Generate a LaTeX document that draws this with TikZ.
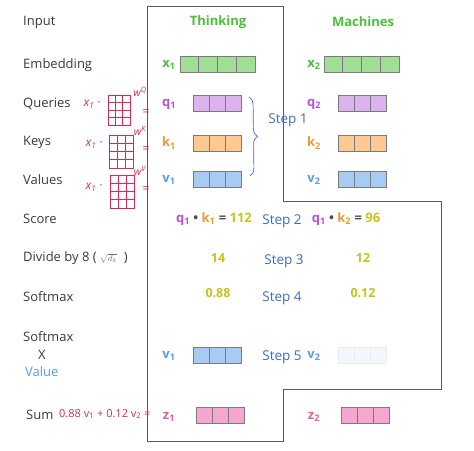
\documentclass[tikz,border=0pt]{standalone}
\usepackage{fontspec}
\setmainfont{Open Sans}
\usetikzlibrary{decorations.pathreplacing}

\definecolor{lblgray}{HTML}{3A3A3A}
\definecolor{thinkgreen}{HTML}{4DBE3A}
\definecolor{xfill}{HTML}{A3DE98}
\definecolor{qfill}{HTML}{DDB3EE}
\definecolor{qcol}{HTML}{B84FD6}
\definecolor{kfill}{HTML}{FFC98F}
\definecolor{kcol}{HTML}{EE9A33}
\definecolor{vfill}{HTML}{A6CCF3}
\definecolor{vcol}{HTML}{5C9CDB}
\definecolor{zfill}{HTML}{F7A6D0}
\definecolor{zcol}{HTML}{E0609A}
\definecolor{numcol}{HTML}{C5C41A}
\definecolor{stepcol}{HTML}{3C6DC0}
\definecolor{inkred}{HTML}{D62B55}
\definecolor{cellline}{HTML}{7A7A7A}

\begin{document}
\begin{tikzpicture}[
        x=1pt, y=-1pt,
        rowlabel/.style={anchor=west, text=lblgray, font=\fontsize{13}{15}\selectfont, inner sep=0pt},
        word/.style={font=\fontsize{13}{15}\selectfont\bfseries, text=thinkgreen},
        veclabel/.style={font=\fontsize{13}{15}\selectfont\bfseries, inner sep=0pt},
        cellbox/.style={draw=cellline, line width=0.7pt, minimum width=16pt, minimum height=16pt, inner sep=0pt},
        steplabel/.style={font=\fontsize{13.5}{16}\selectfont, text=stepcol, inner sep=0pt},
        number/.style={font=\fontsize{12.5}{15}\selectfont\bfseries, text=numcol, inner sep=0pt},
        ink/.style={text=inkred, font=\fontsize{12}{14}\selectfont, inner sep=0pt},
        inkline/.style={draw=inkred, line width=0.8pt}
    ]
    \useasboundingbox (0,0) rectangle (474,450);

    % Umriss
    \draw[draw=black!65, line width=0.8pt]
        (147,6) -- (283,6) -- (283,201) -- (441,201) -- (441,389)
        -- (283,389) -- (283,441) -- (147,441) -- cycle;

    % Zeilen
    \node[rowlabel] (rInput) at (23,22)  {Input};
    \node[rowlabel] (rEmb)   at (23,65)  {Embedding};
    \node[rowlabel] (rQue)   at (23,104) {Queries};
    \node[rowlabel] (rKey)   at (23,142) {Keys};
    \node[rowlabel] (rVal)   at (23,180) {Values};
    \node[rowlabel] (rScore) at (23,219) {Score};
    \node[rowlabel] (rDiv)   at (23,258) {Divide by 8 ( \textcolor{black!55}{$\scriptstyle\sqrt{d_k}$} \ )};
    \node[rowlabel] (rSoft)  at (23,297) {Softmax};
    \node[rowlabel] (rSoft2) at (23,337) {Softmax};
    \node[rowlabel] (rX)     at (38,355) {X};
    \node[rowlabel, text=vcol] (rValue) at (25,372) {Value};
    \node[rowlabel] (rSum)   at (26,415) {Sum};

    % Woerter
    \node[word] (think) at (218,22) {Thinking};
    \node[word] (mach)  at (363,22) {Machines};

    % Vektoren
    \node[veclabel, text=thinkgreen] (x1) at (169,65) {x\textsubscript{1}};
    \node[veclabel, text=thinkgreen] (x2) at (314,65) {x\textsubscript{2}};
    \foreach \i in {0,...,3} {
        \node[cellbox, fill=xfill, minimum width=18.75pt] (x1-\i) at (189.4+\i*18.75,64) {};
        \node[cellbox, fill=xfill, minimum width=18.75pt] (x2-\i) at (333.4+\i*18.75,64) {};
    }

    \node[veclabel, text=qcol] (q1) at (169,104) {q\textsubscript{1}};
    \node[veclabel, text=qcol] (q2) at (314,104) {q\textsubscript{2}};
    \node[veclabel, text=kcol] (k1) at (169,143) {k\textsubscript{1}};
    \node[veclabel, text=kcol] (k2) at (314,143) {k\textsubscript{2}};
    \node[veclabel, text=vcol] (v1) at (169,180) {v\textsubscript{1}};
    \node[veclabel, text=vcol] (v2) at (314,180) {v\textsubscript{2}};
    \foreach \i in {0,1,2} {
        \node[cellbox, fill=qfill] (q1-\i) at (201+\i*16,103.5) {};
        \node[cellbox, fill=qfill] (q2-\i) at (346+\i*16,103.5) {};
        \node[cellbox, fill=kfill] (k1-\i) at (201+\i*16,143) {};
        \node[cellbox, fill=kfill] (k2-\i) at (346+\i*16,143) {};
        \node[cellbox, fill=vfill] (v1-\i) at (201+\i*16,179) {};
        \node[cellbox, fill=vfill] (v2-\i) at (346+\i*16,179) {};
    }

    % Schritt 1
    \coordinate (brTop) at (249,97);
    \coordinate (brBot) at (250,176);
    \draw[draw=stepcol, line width=0.7pt, decorate, decoration={brace, amplitude=8pt}] (brTop) -- (brBot);
    \node[steplabel] (step1) at (288,120) {Step 1};

    % Schritt 2
    \node[font=\fontsize{13}{15}\selectfont\bfseries, inner sep=0pt] (score1) at (214,219)
        {\textcolor{qcol}{q\textsubscript{1}} \textcolor{black!70}{•} \textcolor{kcol}{k\textsubscript{1}} \textcolor{black!70}{=} \textcolor{numcol}{112}};
    \node[steplabel] (step2) at (282,221) {Step 2};
    \node[font=\fontsize{13}{15}\selectfont\bfseries, inner sep=0pt] (score2) at (346,219)
        {\textcolor{qcol}{q\textsubscript{1}} \textcolor{black!70}{•} \textcolor{kcol}{k\textsubscript{2}} \textcolor{black!70}{=} \textcolor{numcol}{96}};

    % Schritt 3 und 4
    \node[number] (div1) at (218,258) {14};
    \node[steplabel] (step3) at (284,261) {Step 3};
    \node[number] (div2) at (363,258) {12};
    \node[number] (soft1) at (218,293) {0.88};
    \node[steplabel] (step4) at (282,298) {Step 4};
    \node[number] (soft2) at (363,293) {0.12};

    % Schritt 5
    \node[veclabel, text=vcol] (v1b) at (169,356) {v\textsubscript{1}};
    \node[veclabel, text=vcol] (v2b) at (314,356) {v\textsubscript{2}};
    \foreach \i in {0,1,2} {
        \node[cellbox, fill=vfill] (v1b-\i) at (201+\i*16,355) {};
        \node[cellbox, fill=vfill!15, draw=black!8] (v2b-\i) at (346+\i*16,355) {};
    }
    \node[steplabel] (step5) at (282,357) {Step 5};

    % Summe
    \node[veclabel, text=zcol] (z1) at (169,417) {z\textsubscript{1}};
    \node[veclabel, text=zcol] (z2) at (314,417) {z\textsubscript{2}};
    \foreach \i in {0,1,2} {
        \node[cellbox, fill=zfill] (z1-\i) at (204+\i*16,415) {};
        \node[cellbox, fill=zfill] (z2-\i) at (349+\i*16,415) {};
    }

    % Handschrift
    \node[ink] (xq) at (92,104) {\itshape x\textsubscript{1} ·};
    \node[ink] (xk) at (94,144) {\itshape x\textsubscript{1} ·};
    \node[ink] (xv) at (94,187) {\itshape x\textsubscript{1} ·};
    \draw[inkline] (108,95) rectangle (130,125);
    \foreach \c in {1,2} \draw[inkline] (108+\c*22/3,95) -- (108+\c*22/3,125);
    \foreach \r in {1,2,3} \draw[inkline] (108,95+\r*7.5) -- (130,95+\r*7.5);
    \draw[inkline] (109,135) rectangle (133,168);
    \foreach \c in {1,2} \draw[inkline] (109+\c*8,135) -- (109+\c*8,168);
    \foreach \r in {1,2,3} \draw[inkline] (109,135+\r*8.25) -- (133,135+\r*8.25);
    \draw[inkline] (110,175) rectangle (134,208);
    \foreach \c in {1,2} \draw[inkline] (110+\c*8,175) -- (110+\c*8,208);
    \foreach \r in {1,2,3} \draw[inkline] (110,175+\r*8.25) -- (134,175+\r*8.25);
    \node[ink, font=\fontsize{10.5}{12}\selectfont] (wq) at (140,92)  {\itshape w\textsuperscript{Q}};
    \node[ink, font=\fontsize{10.5}{12}\selectfont] (wk) at (140,131) {\itshape w\textsuperscript{K}};
    \node[ink, font=\fontsize{10.5}{12}\selectfont] (wv) at (140,171) {\itshape w\textsuperscript{V}};
    \node[ink] (eqq) at (146,113) {=};
    \node[ink] (eqk) at (146,150) {=};
    \node[ink] (eqv) at (146,190) {=};
    \node[ink, anchor=west, font=\fontsize{11}{13}\selectfont] (sumink) at (59,414)
        {0.88 v\textsubscript{1} + 0.12 v\textsubscript{2} =};

\end{tikzpicture}
\end{document}
